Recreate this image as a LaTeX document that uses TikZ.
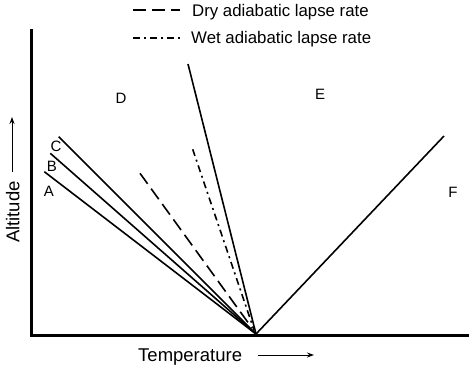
\documentclass[tikz,border=0pt]{standalone}
\usepackage{fontspec}
\setmainfont{Liberation Sans}
\usetikzlibrary{arrows.meta}
\begin{document}
\begin{tikzpicture}[x=1pt,y=-1pt,
  axisline/.style={line width=3pt},
  rateline/.style={line width=1.6pt},
  dryline/.style={line width=1.6pt,dash pattern=on 13pt off 6pt},
  wetline/.style={line width=1.6pt,dash pattern=on 7pt off 4pt on 2pt off 4pt},
  lbl/.style={font=\fontsize{15}{15}\selectfont,inner sep=0pt},
  axlbl/.style={font=\fontsize{18.5}{18.5}\selectfont,inner sep=0pt},
  leglbl/.style={font=\fontsize{16.8}{16.8}\selectfont,inner sep=0pt,anchor=base west},
  arr/.style={line width=1pt,-{Stealth[length=7pt,width=5pt]}}]
\useasboundingbox (0,0) rectangle (474,369);
% coordinates
\coordinate (O) at (256,334);
\coordinate (ytop) at (31,29);
\coordinate (corner) at (31,335);
\coordinate (xend) at (469,335);
\coordinate (Atop) at (44.3,171.7);
\coordinate (Btop) at (50.3,153.3);
\coordinate (Ctop) at (58.7,136.7);
\coordinate (drytop) at (140,173.3);
\coordinate (dryend) at (252,328);
\coordinate (wettop) at (192.7,149.3);
\coordinate (wetend) at (254,330);
\coordinate (steeptop) at (188,64);
\coordinate (Ftop) at (444,136);
\coordinate (ld1) at (133,10);
\coordinate (ld2) at (180,10);
\coordinate (lw1) at (133,38);
\coordinate (lw2) at (180,38);
\coordinate (ya1) at (12,172);
\coordinate (ya2) at (12,117);
\coordinate (xa1) at (258,355);
\coordinate (xa2) at (314,355);
% axes
\draw[axisline] (ytop) -- (corner) -- (xend);
% lines
\draw[rateline] (Atop) -- (O);
\draw[rateline] (Btop) -- (O);
\draw[rateline] (Ctop) -- (O);
\draw[dryline] (drytop) -- (dryend);
\draw[wetline] (wettop) -- (wetend);
\draw[rateline] (steeptop) -- (O);
\draw[rateline] (O) -- (Ftop);
% labels
\node[lbl] (A) at (49,191) {A};
\node[lbl] (B) at (52,166) {B};
\node[lbl] (C) at (56,146) {C};
\node[lbl] (D) at (121,98) {D};
\node[lbl] (E) at (320,94) {E};
\node[lbl] (F) at (453,192) {F};
% legend
\draw[dryline] (ld1) -- (ld2);
\draw[wetline] (lw1) -- (lw2);
\node[leglbl] (dry) at (192,17) {Dry adiabatic lapse rate};
\node[leglbl] (wet) at (191,44) {Wet adiabatic lapse rate};
% axis labels
\node[axlbl,anchor=base west] (temp) at (138,361) {Temperature};
\draw[arr] (xa1) -- (xa2);
\node[axlbl,rotate=90,anchor=base] (alt) at (19.5,212) {Altitude};
\draw[arr] (ya1) -- (ya2);
\end{tikzpicture}
\end{document}
